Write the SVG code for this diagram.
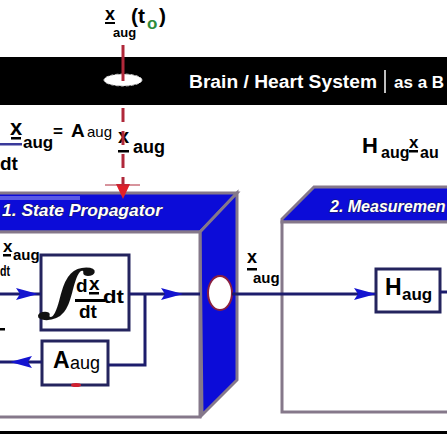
<svg xmlns="http://www.w3.org/2000/svg" width="447" height="447" viewBox="0 0 447 447">
<defs>
<style>
.t{font-family:"Liberation Sans",Arial,sans-serif;font-weight:bold;fill:#000}
.n{font-family:"Liberation Sans",Arial,sans-serif;fill:#000}
.w{font-family:"Liberation Sans",Arial,sans-serif;font-weight:bold;fill:#fff}
.hd{font-family:"Liberation Sans",Arial,sans-serif;font-weight:bold;font-style:italic;fill:#fff;stroke:#202040;stroke-width:0.8;paint-order:stroke}
.blue{fill:#0c0cd8;stroke:#85788a;stroke-width:3}
.panel{fill:#fff;stroke:#85788a;stroke-width:3}
.box{fill:#fff;stroke:#24245e;stroke-width:3}
.ln{stroke:#1c1c6c;stroke-width:3;fill:none}
.ah{fill:#1414d0}
.ul{fill:#000}
</style>
</defs>
<rect width="447" height="447" fill="#fff"/>

<g id="initial-state">
<text class="t" x="105" y="20" font-size="18">x</text>
<rect class="ul" x="105" y="22" width="10" height="2"/>
<text class="t" x="113" y="37" font-size="13">aug</text>
<text class="t" x="131" y="23" font-size="21">(t</text>
<text class="t" x="147" y="29" font-size="17" style="fill:#2e8b3a">o</text>
<text class="t" x="159" y="23" font-size="21">)</text>
</g>

<g id="system-band">
<rect x="0" y="57" width="447" height="48" fill="#000"/>
<ellipse cx="123" cy="80" rx="19" ry="6" fill="#fff" stroke="#ccc" stroke-width="1" stroke-dasharray="3,2"/>
<text class="w" x="189" y="88" font-size="18" textLength="188" lengthAdjust="spacingAndGlyphs">Brain / Heart System</text>
<line x1="385" y1="70" x2="385" y2="93" stroke="#fff" stroke-width="1.5"/>
<text class="w" x="394" y="88" font-size="17">as a B</text>
</g>

<g id="state-equation">
<rect x="0" y="143" width="22" height="2.5" fill="#3a3a9a"/>
<text class="t" x="10" y="135" font-size="22">x</text>
<rect class="ul" x="11" y="137" width="10" height="2.5"/>
<text class="t" x="23" y="148" font-size="17">aug</text>
<text class="t" x="0" y="170" font-size="19">dt</text>
<text class="t" x="53" y="137" font-size="17">=</text>
<text class="t" x="71" y="137" font-size="19">A</text>
<text class="n" x="87" y="137" font-size="15">aug</text>
</g>

<g id="state-equation-x">
<rect x="116" y="129" width="16" height="20" fill="#fff"/>
<text class="t" x="118" y="143" font-size="20">x</text>
<rect class="ul" x="118" y="150" width="11" height="2.5"/>
<text class="t" x="133" y="153" font-size="18">aug</text>
</g>

<g id="measurement-equation">
<text class="t" x="362" y="153" font-size="22">H</text>
<text class="t" x="381" y="158" font-size="16">aug</text>
<circle cx="407" cy="160" r="0.8" fill="#000"/>
<text class="t" x="409" y="148" font-size="17">x</text>
<rect class="ul" x="409" y="150" width="9" height="2.5"/>
<text class="t" x="420" y="158" font-size="16">au</text>
</g>

<g id="state-propagator">
<polygon class="blue" points="-2,193 237,193 200,232 -2,232"/>
<rect x="0" y="196" width="80" height="4" fill="#5a5ae6"/>
<polygon class="blue" points="200,232 237,193 237,380 202,415"/>
<rect class="panel" x="-2" y="232" width="202" height="185"/>
<text class="hd" x="2" y="216" font-size="17" textLength="160" lengthAdjust="spacingAndGlyphs">1. State Propagator</text>
<ellipse cx="220" cy="293" rx="12" ry="17" fill="#fff" stroke="#8a2040" stroke-width="2"/>
</g>

<g id="dxdt-label">
<text class="t" x="3" y="252" font-size="17">x</text>
<rect class="ul" x="3" y="254" width="8" height="2.5"/>
<text class="t" x="13" y="260" font-size="15">aug</text>
<text class="t" x="0" y="276" font-size="15" textLength="10" lengthAdjust="spacingAndGlyphs">dt</text>
<rect x="0" y="328" width="5" height="2.5" fill="#000"/>
</g>

<g id="integrator">
<rect class="box" x="41" y="255" width="88" height="75"/>
<text x="0" y="0" font-size="56" font-family="DejaVu Serif,serif" font-weight="bold" fill="#111" transform="translate(37,310) skewX(-12) scale(1.6,1)">∫</text>
<text class="t" x="76" y="292" font-size="19">d</text>
<text class="t" x="89" y="290" font-size="19">x</text>
<rect class="ul" x="89" y="292" width="10" height="2.5"/>
<rect x="75" y="299" width="30" height="3" fill="#000"/>
<text class="t" x="79" y="318" font-size="19">dt</text>
<text class="t" x="103" y="303" font-size="19" textLength="21" lengthAdjust="spacingAndGlyphs">dt</text>
</g>

<g id="a-aug">
<rect class="box" x="42" y="341" width="66" height="44"/>
<text class="t" x="53" y="368" font-size="23">A</text>
<text class="n" x="70" y="369" font-size="18">aug</text>
<ellipse cx="76" cy="385" rx="5" ry="2" fill="#d02030"/>
</g>

<g id="measurement">
<polygon class="blue" points="314,187 452,187 452,222 282,222 282,219"/>
<rect class="panel" x="282" y="222" width="170" height="190"/>
<text class="hd" x="330" y="212" font-size="16">2. Measuremen</text>
</g>

<g id="h-aug">
<rect class="box" x="376" y="269" width="64" height="43"/>
<text class="t" x="385" y="295" font-size="23">H</text>
<text class="t" x="402" y="300" font-size="17">aug</text>
</g>

<g id="x-aug-label">
<text class="t" x="247" y="263" font-size="18">x</text>
<rect class="ul" x="247" y="268" width="10" height="2.5"/>
<text class="t" x="253" y="283" font-size="15">aug</text>
</g>

<g id="connectors">
<line x1="123" y1="45" x2="123" y2="81" stroke="#b0283a" stroke-width="3"/>
<line x1="123" y1="108" x2="123" y2="184" stroke="#b0283a" stroke-width="3" stroke-dasharray="14,9"/>
<polygon points="116,184 130,184 123,199" fill="#e0202a"/>
<line x1="105" y1="185" x2="140" y2="185" stroke="#b0283a" stroke-width="1"/>

<line class="ln" x1="0" y1="294" x2="41" y2="294"/>
<polygon class="ah" points="38,294 16,288 20,294 16,300"/>
<line class="ln" x1="129" y1="294" x2="200" y2="294"/>
<polygon class="ah" points="183,294 161,288 165,294 161,300"/>
<polyline class="ln" points="145,294 145,365 108,365"/>
<line class="ln" x1="0" y1="362" x2="42" y2="362"/>
<polygon class="ah" points="10,362 32,356 28,362 32,368"/>
<line class="ln" x1="232" y1="294" x2="376" y2="294"/>
<polygon class="ah" points="376,294 354,288 358,294 354,300"/>
<line class="ln" x1="440" y1="292" x2="447" y2="292"/>
</g>

<rect x="0" y="431" width="447" height="3" fill="#000"/>
</svg>
